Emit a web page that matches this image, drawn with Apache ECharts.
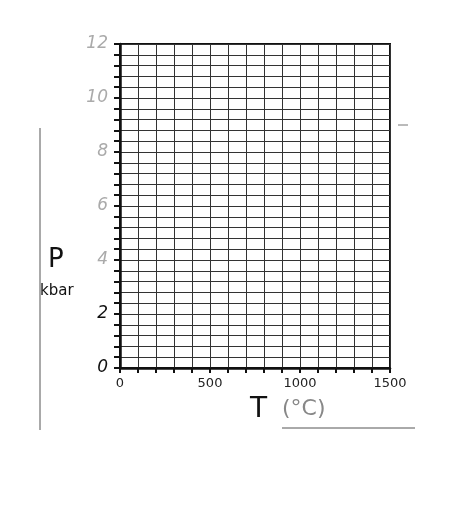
<!DOCTYPE html>
<html><head><meta charset="utf-8">
<script src="https://cdn.jsdelivr.net/npm/echarts@6/dist/echarts.min.js"></script>
<style>html,body{margin:0;background:#fff}#c{width:474px;height:521px}</style>
</head><body><div id="c"></div>
<script>
const tempTicks = [0, 500, 1000, 1500];
const pressTicks = [0, 2, 4, 6, 8, 10, 12];
const grayLabels = [4, 6, 8, 10, 12];
const near = (v, arr) => arr.find(t => Math.abs(v - t) < 1e-6);
const chart = echarts.init(document.getElementById('c'));
chart.setOption({
  animation: false,
  grid: {left: 120, right: 84, top: 44, bottom: 153, show: true, borderColor: '#111', borderWidth: 2},
  xAxis: {
    type: 'value', min: 0, max: 1500, interval: 100,
    axisLine: {lineStyle: {color: '#111', width: 2.5}},
    axisTick: {length: 5, lineStyle: {color: '#111', width: 2}},
    axisLabel: {fontSize: 13, color: '#222', margin: 9, fontFamily: 'DejaVu Sans',
      formatter: v => near(v, tempTicks) !== undefined ? String(Math.round(v)) : ''},
    splitLine: {show: true, lineStyle: {color: '#333', width: 1}}
  },
  yAxis: {
    type: 'value', min: 0, max: 12, interval: 0.4,
    axisLine: {lineStyle: {color: '#111', width: 2.5}},
    axisTick: {length: 6, lineStyle: {color: '#111', width: 2}},
    axisLabel: {fontSize: 17, margin: 12, fontFamily: 'DejaVu Sans', fontStyle: 'italic',
      color: v => near(v, grayLabels) !== undefined ? '#aaa' : '#111',
      formatter: v => { const t = near(v, pressTicks); return t !== undefined ? String(t) : ''; }},
    splitLine: {show: true, lineStyle: {color: '#333', width: 1}}
  },
  graphic: [
    {type: 'line', shape: {x1: 40, y1: 128, x2: 40, y2: 430}, style: {stroke: '#555', lineWidth: 1}},
    {type: 'line', shape: {x1: 282, y1: 428, x2: 415, y2: 428}, style: {stroke: '#555', lineWidth: 1}},
    {type: 'line', shape: {x1: 398, y1: 125, x2: 408, y2: 125}, style: {stroke: '#777', lineWidth: 1}},
    {type: 'text', left: 48, top: 247, style: {text: 'P', fontSize: 26, fill: '#111', fontFamily: 'DejaVu Sans'}},
    {type: 'text', left: 40, top: 284, style: {text: 'kbar', fontSize: 15, fill: '#111', fontFamily: 'DejaVu Sans'}},
    {type: 'text', left: 250, top: 396, style: {text: 'T', fontSize: 28, fill: '#111', fontFamily: 'DejaVu Sans'}},
    {type: 'text', left: 282, top: 398, style: {text: '(°C)', fontSize: 22, fill: '#888', fontFamily: 'DejaVu Sans'}}
  ]
});
</script></body></html>
